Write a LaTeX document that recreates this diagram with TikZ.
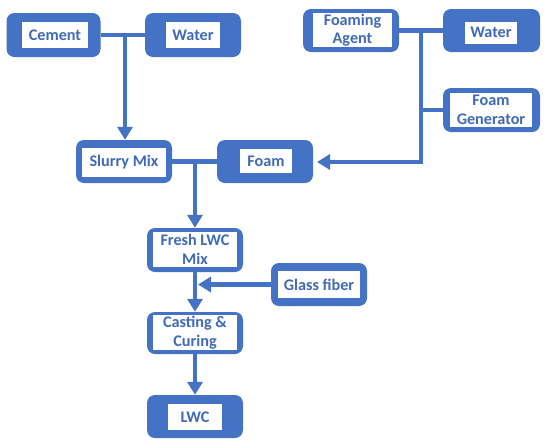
\documentclass[tikz,border=0pt]{standalone}
\usepackage{fontspec}
\setmainfont{Carlito}
\usetikzlibrary{arrows.meta}
\definecolor{bblue}{HTML}{4472C4}
\definecolor{tblue}{HTML}{3F6AB8}
\tikzset{
  outerbox/.style={fill=bblue, rounded corners=8pt, inner sep=0pt, draw=none},
  innerbox/.style={fill=white, inner sep=0pt, draw=none, text=tblue,
    font=\fontsize{16.2}{18.5}\selectfont\bfseries, align=center},
  conn/.style={draw=bblue, line width=4.5pt},
  arr/.style={conn, -{Triangle[length=13pt,width=15pt]}},
}
\begin{document}
\begin{tikzpicture}[x=1pt,y=-1pt]
\useasboundingbox (0,0) rectangle (550,448);
% outer boxes
\node[outerbox, minimum width=94pt, minimum height=44pt] (cement) at (53.5,35) {};
\node[outerbox, minimum width=96pt, minimum height=44pt] (waterl) at (193,35) {};
\node[outerbox, minimum width=96pt, minimum height=43pt] (slurry) at (124,161.5) {};
\node[outerbox, minimum width=96pt, minimum height=43pt] (foam) at (265,161.5) {};
\node[outerbox, minimum width=96pt, minimum height=43pt] (agent) at (351,30.5) {};
\node[outerbox, minimum width=97pt, minimum height=43pt] (waterr) at (491.5,30.5) {};
\node[outerbox, minimum width=97pt, minimum height=44pt] (gen) at (491.5,110) {};
\node[outerbox, minimum width=96pt, minimum height=44pt] (fresh) at (195,250) {};
\node[outerbox, minimum width=96pt, minimum height=43pt] (glass) at (319,284.5) {};
\node[outerbox, minimum width=96pt, minimum height=42pt] (cast) at (195,333) {};
\node[outerbox, minimum width=96pt, minimum height=43pt] (lwc) at (195,416.5) {};
% inner boxes with text
\node[innerbox, minimum width=66pt, minimum height=26pt] (cementt) at (55,35) {Cement};
\node[innerbox, minimum width=54pt, minimum height=26pt] (waterlt) at (193,35) {Water};
\node[innerbox, minimum width=84pt, minimum height=29pt] (slurryt) at (124,162.5) {Slurry Mix};
\node[innerbox, minimum width=52pt, minimum height=24pt] (foamt) at (266,161) {Foam};
\node[innerbox, minimum width=79pt, minimum height=34pt] (agentt) at (352.5,30) {Foaming\\Agent};
\node[innerbox, minimum width=52pt, minimum height=22pt] (waterrt) at (491,32.5) {Water};
\node[innerbox, minimum width=82pt, minimum height=34pt] (gent) at (491,110) {Foam\\Generator};
\node[innerbox, minimum width=84pt, minimum height=35pt] (fresht) at (195,249.5) {Fresh LWC\\Mix};
\node[innerbox, minimum width=82pt, minimum height=27pt] (glasst) at (319,284.5) {Glass fiber};
\node[innerbox, minimum width=84pt, minimum height=35pt] (castt) at (195,332.5) {Casting \&\\Curing};
\node[innerbox, minimum width=54pt, minimum height=26pt] (lwct) at (195,417) {LWC};
% junction coordinates
\coordinate (j1) at (125,35);
\coordinate (j2) at (195,161.5);
\coordinate (j3) at (421,30.5);
\coordinate (j4) at (421,110);
\coordinate (j5) at (421,162);
\coordinate (foamtip) at (317,162);
\coordinate (j6) at (198,284.5);
% connectors
\draw[conn] (cement.east) -- (waterl.west);
\draw[arr] (j1) -- (slurry.north -| j1);
\draw[conn] (slurry.east) -- (foam.west);
\draw[arr] (j2) -- (fresh.north);
\draw[conn] (agent.east) -- (waterr.west);
\draw[conn] (j3) -- (j5);
\draw[conn] (j4) -- (gen.west);
\draw[arr] ([xshift=2.25pt]j5) -- (foamtip);
\draw[arr] (fresh.south) -- (cast.north);
\draw[arr] (glass.west) -- (j6);
\draw[arr] (cast.south) -- (lwc.north);
\end{tikzpicture}
\end{document}
